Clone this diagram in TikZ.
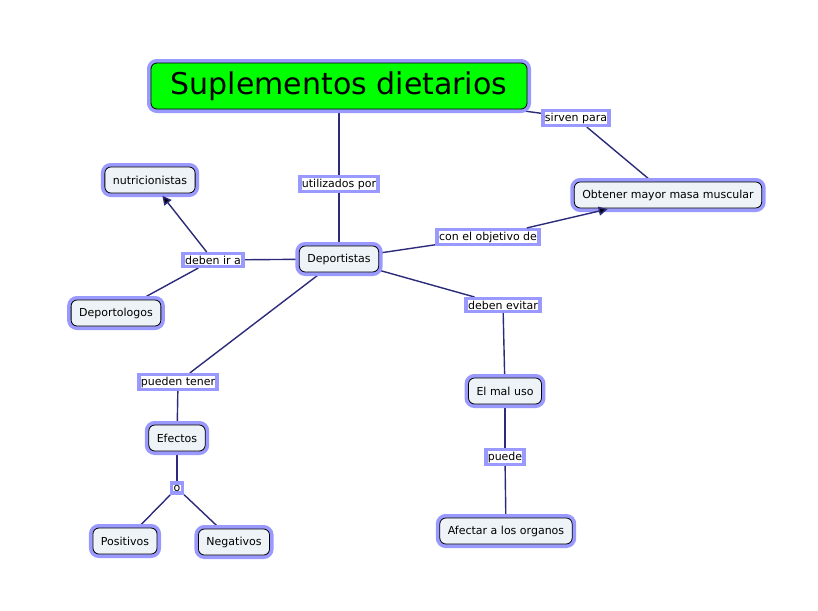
\documentclass[tikz,border=0pt]{standalone}
\usepackage{fontspec}
\setmainfont{DejaVu Sans}
\usetikzlibrary{arrows.meta}
\pgfdeclarelayer{bg}
\pgfsetlayers{bg,main}
\definecolor{halo}{HTML}{9999FF}
\definecolor{cfill}{HTML}{EEF3F7}
\definecolor{link}{HTML}{2B2B7A}
\begin{document}
\begin{tikzpicture}[x=1pt,y=-1pt,
  concept/.style={rectangle,rounded corners=6pt,draw=black,line width=0.8pt,fill=cfill,
    preaction={draw=halo,line width=8pt},minimum height=26pt,inner xsep=8pt,
    font=\fontsize{11}{13}\selectfont},
  lab/.style={rectangle,draw=halo,line width=3.5pt,fill=white,inner sep=2pt,
    font=\fontsize{11}{13}\selectfont},
  con/.style={draw=link,line width=1.4pt},
  arr/.style={con,-{Triangle[length=9pt,width=9pt,fill=black]}}]
\useasboundingbox (0,0) rectangle (818,610);
\node[concept,fill=green,minimum width=376pt,minimum height=46pt,font=\fontsize{30}{34}\selectfont] (t) at (339,86) {Suplementos dietarios};
\node[concept] (nut) at (150,180) {nutricionistas};
\node[concept] (obt) at (668,195) {Obtener mayor masa muscular};
\node[concept] (dep) at (339,259) {Deportistas};
\node[concept] (dlg) at (116,313) {Deportologos};
\node[concept] (mal) at (505,391) {El mal uso};
\node[concept] (efe) at (177,438) {Efectos};
\node[concept] (pos) at (125,541) {Positivos};
\node[concept] (neg) at (234,542) {Negativos};
\node[concept] (afe) at (506,531) {Afectar a los organos};
\node[lab] (l1) at (339,184) {utilizados por};
\node[lab] (l2) at (576,118) {sirven para};
\node[lab] (l3) at (488,237) {con el objetivo de};
\node[lab] (l4) at (213,260) {deben ir a};
\node[lab] (l5) at (503,305) {deben evitar};
\node[lab] (l6) at (178,382) {pueden tener};
\node[lab] (l7) at (177,488) {o};
\node[lab] (l8) at (505,457) {puede};
\begin{pgfonlayer}{bg}
\draw[con] (t) -- (l1); \draw[con] (l1) -- (dep);
\draw[con] (t) -- (l2); \draw[con] (l2) -- (obt);
\draw[con] (dep) -- (l3);
\draw[con] (dep) -- (l4); \draw[con] (l4) -- (dlg);
\draw[con] (dep) -- (l5); \draw[con] (l5) -- (mal);
\draw[con] (dep) -- (l6); \draw[con] (l6) -- (efe);
\draw[con] (efe) -- (l7); \draw[con] (l7) -- (pos); \draw[con] (l7) -- (neg);
\draw[con] (mal) -- (l8); \draw[con] (l8) -- (afe);
\end{pgfonlayer}
\draw[arr,shorten >=3pt] (l3) -- (obt);
\draw[arr,shorten >=3pt] (l4) -- (nut);
\end{tikzpicture}
\end{document}
